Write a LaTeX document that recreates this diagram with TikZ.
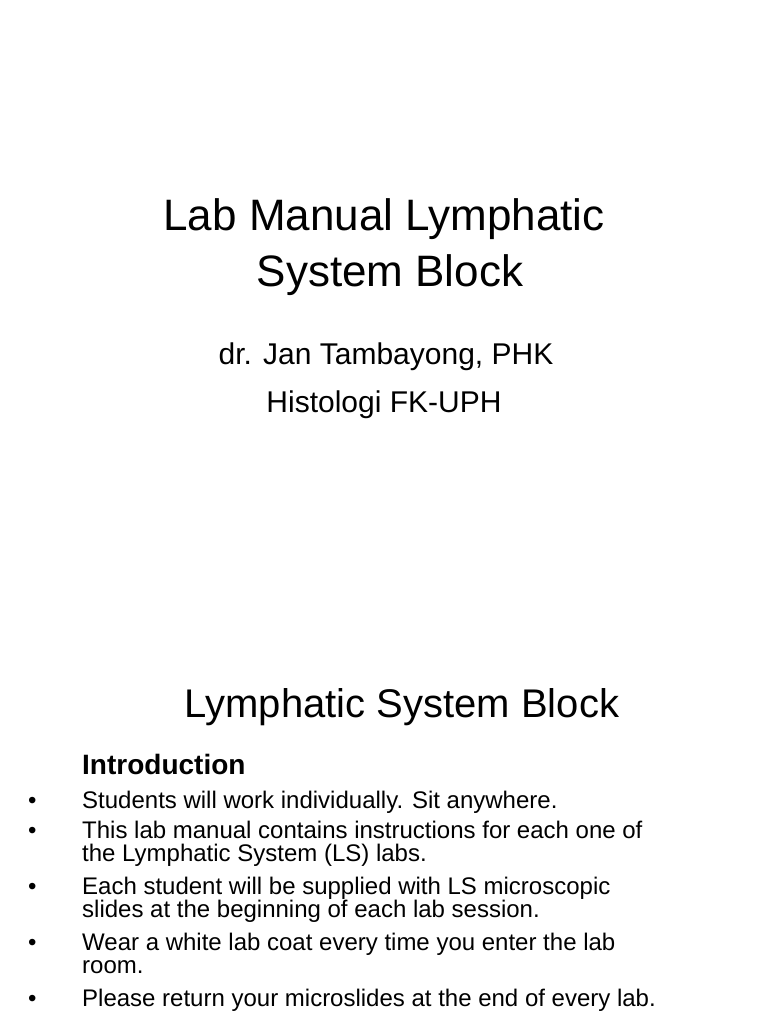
\documentclass[tikz,border=0pt]{standalone}
\usepackage{fontspec}
\setmainfont{Liberation Sans}
\begin{document}
\begin{tikzpicture}[x=1pt,y=-1pt,
  title/.style={anchor=base,font=\fontsize{44}{48}\selectfont,inner sep=0},
  sub/.style={anchor=base,font=\fontsize{30}{34}\selectfont,inner sep=0},
  bul/.style={anchor=base west,font=\fontsize{24}{22}\selectfont,inner sep=0},
  txt/.style={anchor=base west,font=\fontsize{24}{22}\selectfont,inner sep=0}]
\fill[white] (0,0) rectangle (768,1024);
\node[title] (t1) at (384,230) {Lab Manual Lymphatic};
\node[title] (t2) at (390,286) {System Block};
\node[sub] (s1) at (386,364) {dr. Jan Tambayong, PHK};
\node[sub] (s2) at (384,412) {Histologi FK-UPH};
\node[title,font=\fontsize{40}{44}\selectfont] (t3) at (402,717) {Lymphatic System Block};
\node[anchor=base west,inner sep=0,font=\bfseries\fontsize{28}{30}\selectfont] (intro) at (82,774) {Introduction};
\foreach \y/\t [count=\i] in {808/Students will work individually. Sit anywhere.,
  838/This lab manual contains instructions for each one of,
  894/Each student will be supplied with LS microscopic,
  950/Wear a white lab coat every time you enter the lab,
  1006/Please return your microslides at the end of every lab.}{
  \node[bul] (b\i) at (28,\y) {•};
  \node[txt] (l\i) at (82,\y) {\t};
}
\node[txt] (c2) at (82,861) {the Lymphatic System (LS) labs.};
\node[txt] (c3) at (82,917) {slides at the beginning of each lab session.};
\node[txt] (c4) at (82,973) {room.};
\end{tikzpicture}
\end{document}
